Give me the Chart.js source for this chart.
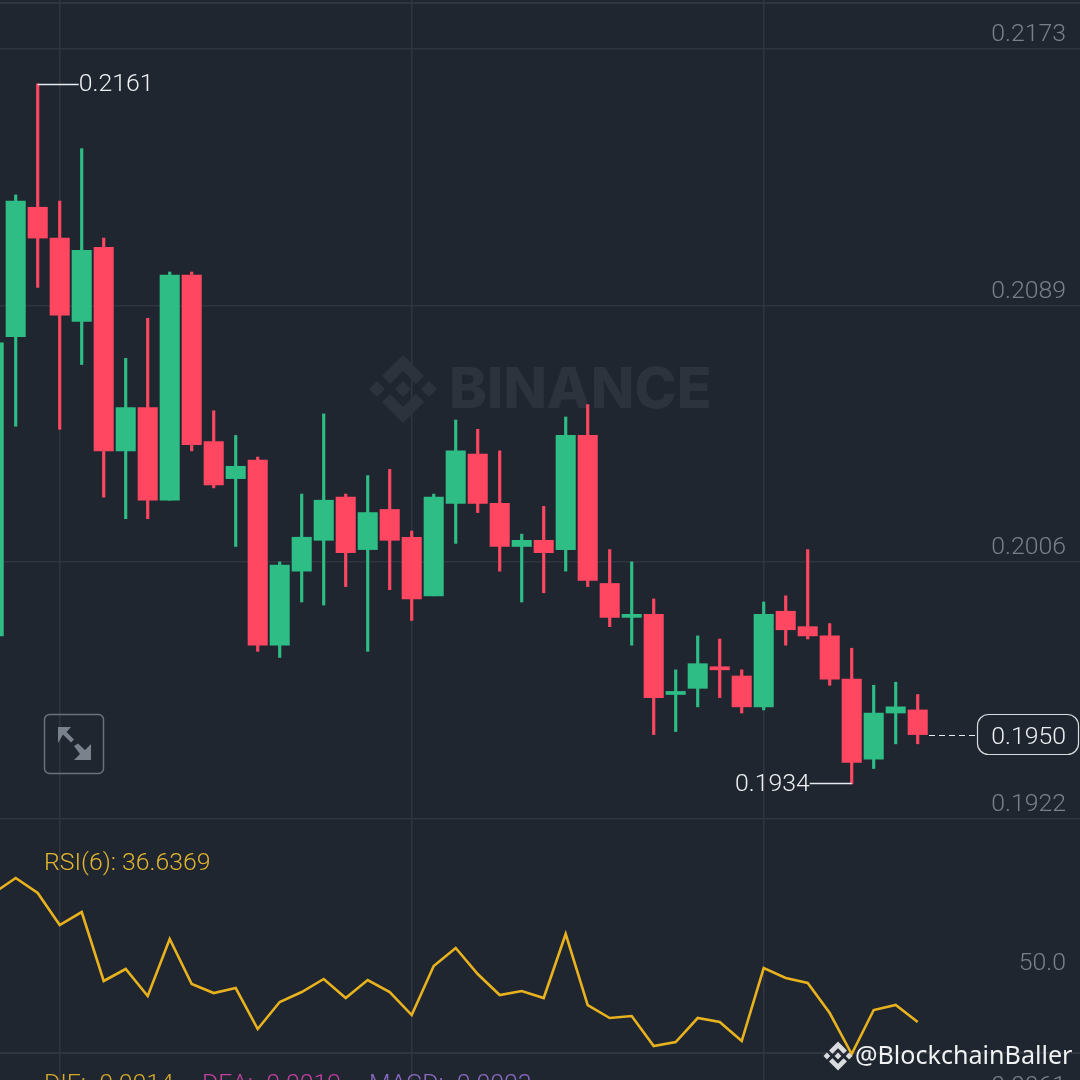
<!DOCTYPE html>
<html>
<head>
<meta charset="utf-8">
<style>
html,body{margin:0;padding:0;background:#1f2630;overflow:hidden}
#wrap{position:absolute;left:0;top:0;width:1080px;height:1080px}
</style>
<script src="https://cdn.jsdelivr.net/npm/chart.js@4"></script>
</head>
<body>
<div id="wrap"><canvas id="c" width="1080" height="1080"></canvas></div>
<script>
// Candle data, oldest first; the first candle is cut off by the left edge
const opens  = [0.1982,0.2079,0.2121,0.2111,0.2084,0.2108,0.2042,0.2056,0.2026,0.2099,0.2045,0.2033,0.2039,0.1979,0.2003,0.2013,0.2027,0.2010,0.2023,0.2014,0.1995,0.2025,0.2041,0.2025,0.2011,0.2013,0.2010,0.2047,0.1999,0.1988,0.1989,0.1963,0.1965,0.1972,0.1969,0.1959,0.1990,0.1985,0.1982,0.1968,0.1942,0.1957,0.1958];
const closes = [0.2077,0.2123,0.2111,0.2086,0.2107,0.2042,0.2056,0.2026,0.2099,0.2044,0.2031,0.2037,0.1979,0.2005,0.2014,0.2026,0.2009,0.2022,0.2013,0.1994,0.2027,0.2042,0.2025,0.2011,0.2013,0.2009,0.2047,0.2000,0.1988,0.1989,0.1962,0.1964,0.1973,0.1971,0.1959,0.1989,0.1984,0.1982,0.1968,0.1941,0.1957,0.1959,0.1950];
const highs  = [0.2077,0.2125,0.2161,0.2123,0.2140,0.2111,0.2072,0.2085,0.2100,0.2100,0.2055,0.2047,0.2040,0.2006,0.2028,0.2054,0.2028,0.2034,0.2036,0.2016,0.2028,0.2052,0.2049,0.2042,0.2015,0.2024,0.2053,0.2057,0.2010,0.2006,0.1994,0.1971,0.1982,0.1981,0.1971,0.1993,0.1995,0.2010,0.1986,0.1978,0.1966,0.1967,0.1963];
const lows   = [0.1982,0.2050,0.2095,0.2049,0.2070,0.2027,0.2020,0.2020,0.2026,0.2042,0.2030,0.2011,0.1977,0.1975,0.1993,0.1992,0.1998,0.1977,0.1997,0.1987,0.1995,0.2012,0.2022,0.2003,0.1993,0.1996,0.2003,0.1998,0.1985,0.1979,0.1950,0.1951,0.1959,0.1962,0.1957,0.1958,0.1979,0.1981,0.1966,0.1934,0.1939,0.1947,0.1947];
const rsiValues = [75.81,80.37,75.81,66.09,70.04,49.09,52.73,44.53,61.84,48.18,45.44,46.96,34.51,42.71,45.75,49.70,43.93,49.39,45.75,38.76,53.64,59.11,51.21,44.84,46.05,43.93,63.36,41.80,37.85,38.46,29.35,30.56,37.85,36.64,30.87,53.04,50.00,48.48,39.37,26.92,40.28,41.80,36.64];

const priceTicks  = [0.21723,0.2089,0.2006,0.19227];
const priceLabels = ['0.2173','0.2089','0.2006','0.1922'];
const verticalTicks = [3,19,35];
const rsiTickValue = 50;
const rsiTickLabel = '50.0';
const rsiSeparator = 27.3;
const highLabel = 0.2161, lowLabel = 0.1934, lastPrice = 0.1950;
const rsiTitle = 'RSI(6): 36.6369';
const macdNames = ['DIF: -0.0014','DEA: -0.0019','MACD: -0.0003'];
const macdTick = '0.0061';
const credit = '@BlockchainBaller';

const GREEN='#2ebd85', RED='#ff4761', GRID='#30353f', BG='#1f2630', AXIS='#7a808b', YELLOW='#e8b21e';
const FONT='Roboto, sans-serif';
const idx = opens.map((_,i)=>i);
const colors = opens.map((o,i)=>closes[i]>=o?GREEN:RED);

function diamondLogo(ctx,cx,cy,s,color){
  ctx.save();ctx.translate(cx,cy);ctx.scale(s/34,s/34);ctx.fillStyle=color;
  const poly=p=>{ctx.beginPath();p.forEach((q,i)=>i?ctx.lineTo(q[0],q[1]):ctx.moveTo(q[0],q[1]));ctx.closePath();ctx.fill();};
  poly([[0,-34],[21,-13],[13,-5],[0,-18],[-13,-5],[-21,-13]]);
  poly([[0,34],[21,13],[13,5],[0,18],[-13,5],[-21,13]]);
  poly([[-34,0],[-26,-8],[-18,0],[-26,8]]);
  poly([[34,0],[26,-8],[18,0],[26,8]]);
  poly([[0,-8],[8,0],[0,8],[-8,0]]);
  ctx.restore();
}

const deco = {
  id:'deco',
  beforeDatasetsDraw(chart){
    const ctx=chart.ctx;
    ctx.save();
    ctx.strokeStyle=GRID;ctx.lineWidth=2;
    ctx.beginPath();ctx.moveTo(0,3);ctx.lineTo(1080,3);ctx.stroke();
    diamondLogo(ctx,403,389,34,'#2d333d');
    ctx.fillStyle='#2d333d';ctx.font='800 57px Inter, sans-serif';ctx.textAlign='left';ctx.textBaseline='middle';
    ctx.fillText('BINANCE',449,391);
    ctx.restore();
  },
  afterDatasetsDraw(chart){
    const ctx=chart.ctx, P=chart.scales.price, R=chart.scales.rsi, X=chart.scales.x;
    ctx.save();
    ctx.font='300 24.8px '+FONT;ctx.textBaseline='middle';
    // price axis labels
    ctx.fillStyle=AXIS;ctx.textAlign='right';
    priceTicks.forEach((v,i)=>ctx.fillText(priceLabels[i],1066,P.getPixelForValue(v)-14));
    ctx.fillText(rsiTickLabel,1066,R.getPixelForValue(rsiTickValue)-14);
    ctx.fillText(macdTick,1066,1087);
    // high / low annotations
    ctx.strokeStyle='#e8eaed';ctx.lineWidth=1.5;ctx.fillStyle='#eef0f2';
    const yh=Math.round(P.getPixelForValue(highLabel))+.5, xh=X.getPixelForValue(2);
    ctx.beginPath();ctx.moveTo(xh,yh);ctx.lineTo(xh+41,yh);ctx.stroke();
    ctx.textAlign='left';ctx.fillText(highLabel.toFixed(4),xh+41,yh);
    const yl=Math.round(P.getPixelForValue(lowLabel))-.5, xl=X.getPixelForValue(39);
    ctx.beginPath();ctx.moveTo(xl,yl);ctx.lineTo(xl-42,yl);ctx.stroke();
    ctx.textAlign='right';ctx.fillText(lowLabel.toFixed(4),xl-42,yl+1);
    // last price tag
    const yp=Math.round(P.getPixelForValue(lastPrice))+.5;
    ctx.lineWidth=1.2;ctx.setLineDash([6,4]);
    ctx.beginPath();ctx.moveTo(929,yp);ctx.lineTo(977,yp);ctx.stroke();ctx.setLineDash([]);
    ctx.beginPath();ctx.roundRect(977.5,714.5,101,40,11);ctx.fillStyle=BG;ctx.fill();ctx.strokeStyle='#d8dade';ctx.stroke();
    ctx.fillStyle='#eef0f2';ctx.textAlign='right';ctx.fillText(lastPrice.toFixed(4),1066,yp+2.5);
    // expand button
    ctx.strokeStyle='#6b717c';ctx.lineWidth=1.5;
    ctx.beginPath();ctx.roundRect(44.5,714.5,59,59,5);ctx.stroke();
    ctx.fillStyle='#7a828e';
    ctx.beginPath();ctx.moveTo(58,727);ctx.lineTo(71,727);ctx.lineTo(66.5,732);ctx.lineTo(74,739.5);ctx.lineTo(71,742.5);ctx.lineTo(63,734.5);ctx.lineTo(58,743);ctx.closePath();ctx.fill();
    ctx.beginPath();ctx.moveTo(91,760);ctx.lineTo(74,760);ctx.lineTo(80,754);ctx.lineTo(74,746);ctx.lineTo(78,743.5);ctx.lineTo(85,750);ctx.lineTo(91,744);ctx.closePath();ctx.fill();
    // indicator titles
    ctx.textAlign='left';ctx.fillStyle='#e3b52f';ctx.fillText(rsiTitle,44,864);
    ctx.fillStyle='#d4a92a';ctx.fillText(macdNames[0],44,1085);
    ctx.fillStyle='#c2409f';ctx.fillText(macdNames[1],202,1085);
    ctx.fillStyle='#8c6bc2';ctx.fillText(macdNames[2],369,1085);
    // credit
    diamondLogo(ctx,838,1056,14.5,'#d9dbde');
    ctx.font='25.1px "Noto Sans", sans-serif';ctx.fillStyle='#f0f1f3';ctx.textAlign='left';
    ctx.fillText(credit,855,1057);
    ctx.restore();
  }
};

new Chart(document.getElementById('c'),{
  data:{
    labels:idx,
    datasets:[
      {type:'line',label:'RSI',yAxisID:'rsi',xAxisID:'x',data:idx.map(i=>({x:i,y:rsiValues[i]})),borderColor:YELLOW,borderWidth:2.6,pointRadius:0,tension:0,order:0},
      {type:'bar',label:'Body',yAxisID:'price',xAxisID:'x',data:idx.map(i=>({x:i,y:[Math.min(opens[i],closes[i]),Math.max(opens[i],closes[i])]})),backgroundColor:colors,barThickness:19.4,grouped:false,order:1},
      {type:'bar',label:'Wick',yAxisID:'price',xAxisID:'x',data:idx.map(i=>({x:i,y:[lows[i],highs[i]]})),backgroundColor:colors,barThickness:2.5,grouped:false,order:2}
    ]
  },
  plugins:[deco],
  options:{
    responsive:false,animation:false,
    layout:{padding:0},
    plugins:{legend:{display:false},tooltip:{enabled:false}},
    scales:{
      x:{type:'linear',offset:false,min:0.286,max:49.377,
        afterBuildTicks:s=>{s.ticks=verticalTicks.map(v=>({value:v}));},
        afterFit:s=>{s.height=0;},
        ticks:{display:false},border:{display:false},grid:{offset:false,color:GRID,lineWidth:1.5,drawTicks:false}},
      price:{type:'linear',position:'right',min:0.18380,max:0.21882,
        afterBuildTicks:s=>{s.ticks=priceTicks.map(v=>({value:v}));},
        afterFit:s=>{s.width=0;},
        ticks:{display:false},border:{display:false},grid:{color:GRID,lineWidth:1.5,drawTicks:false}},
      rsi:{type:'linear',position:'left',min:19.03,max:346.99,
        afterBuildTicks:s=>{s.ticks=[{value:rsiSeparator}];},
        afterFit:s=>{s.width=0;},
        ticks:{display:false},border:{display:false},grid:{color:GRID,lineWidth:2,drawTicks:false}}
    }
  }
});
</script>
</body>
</html>
